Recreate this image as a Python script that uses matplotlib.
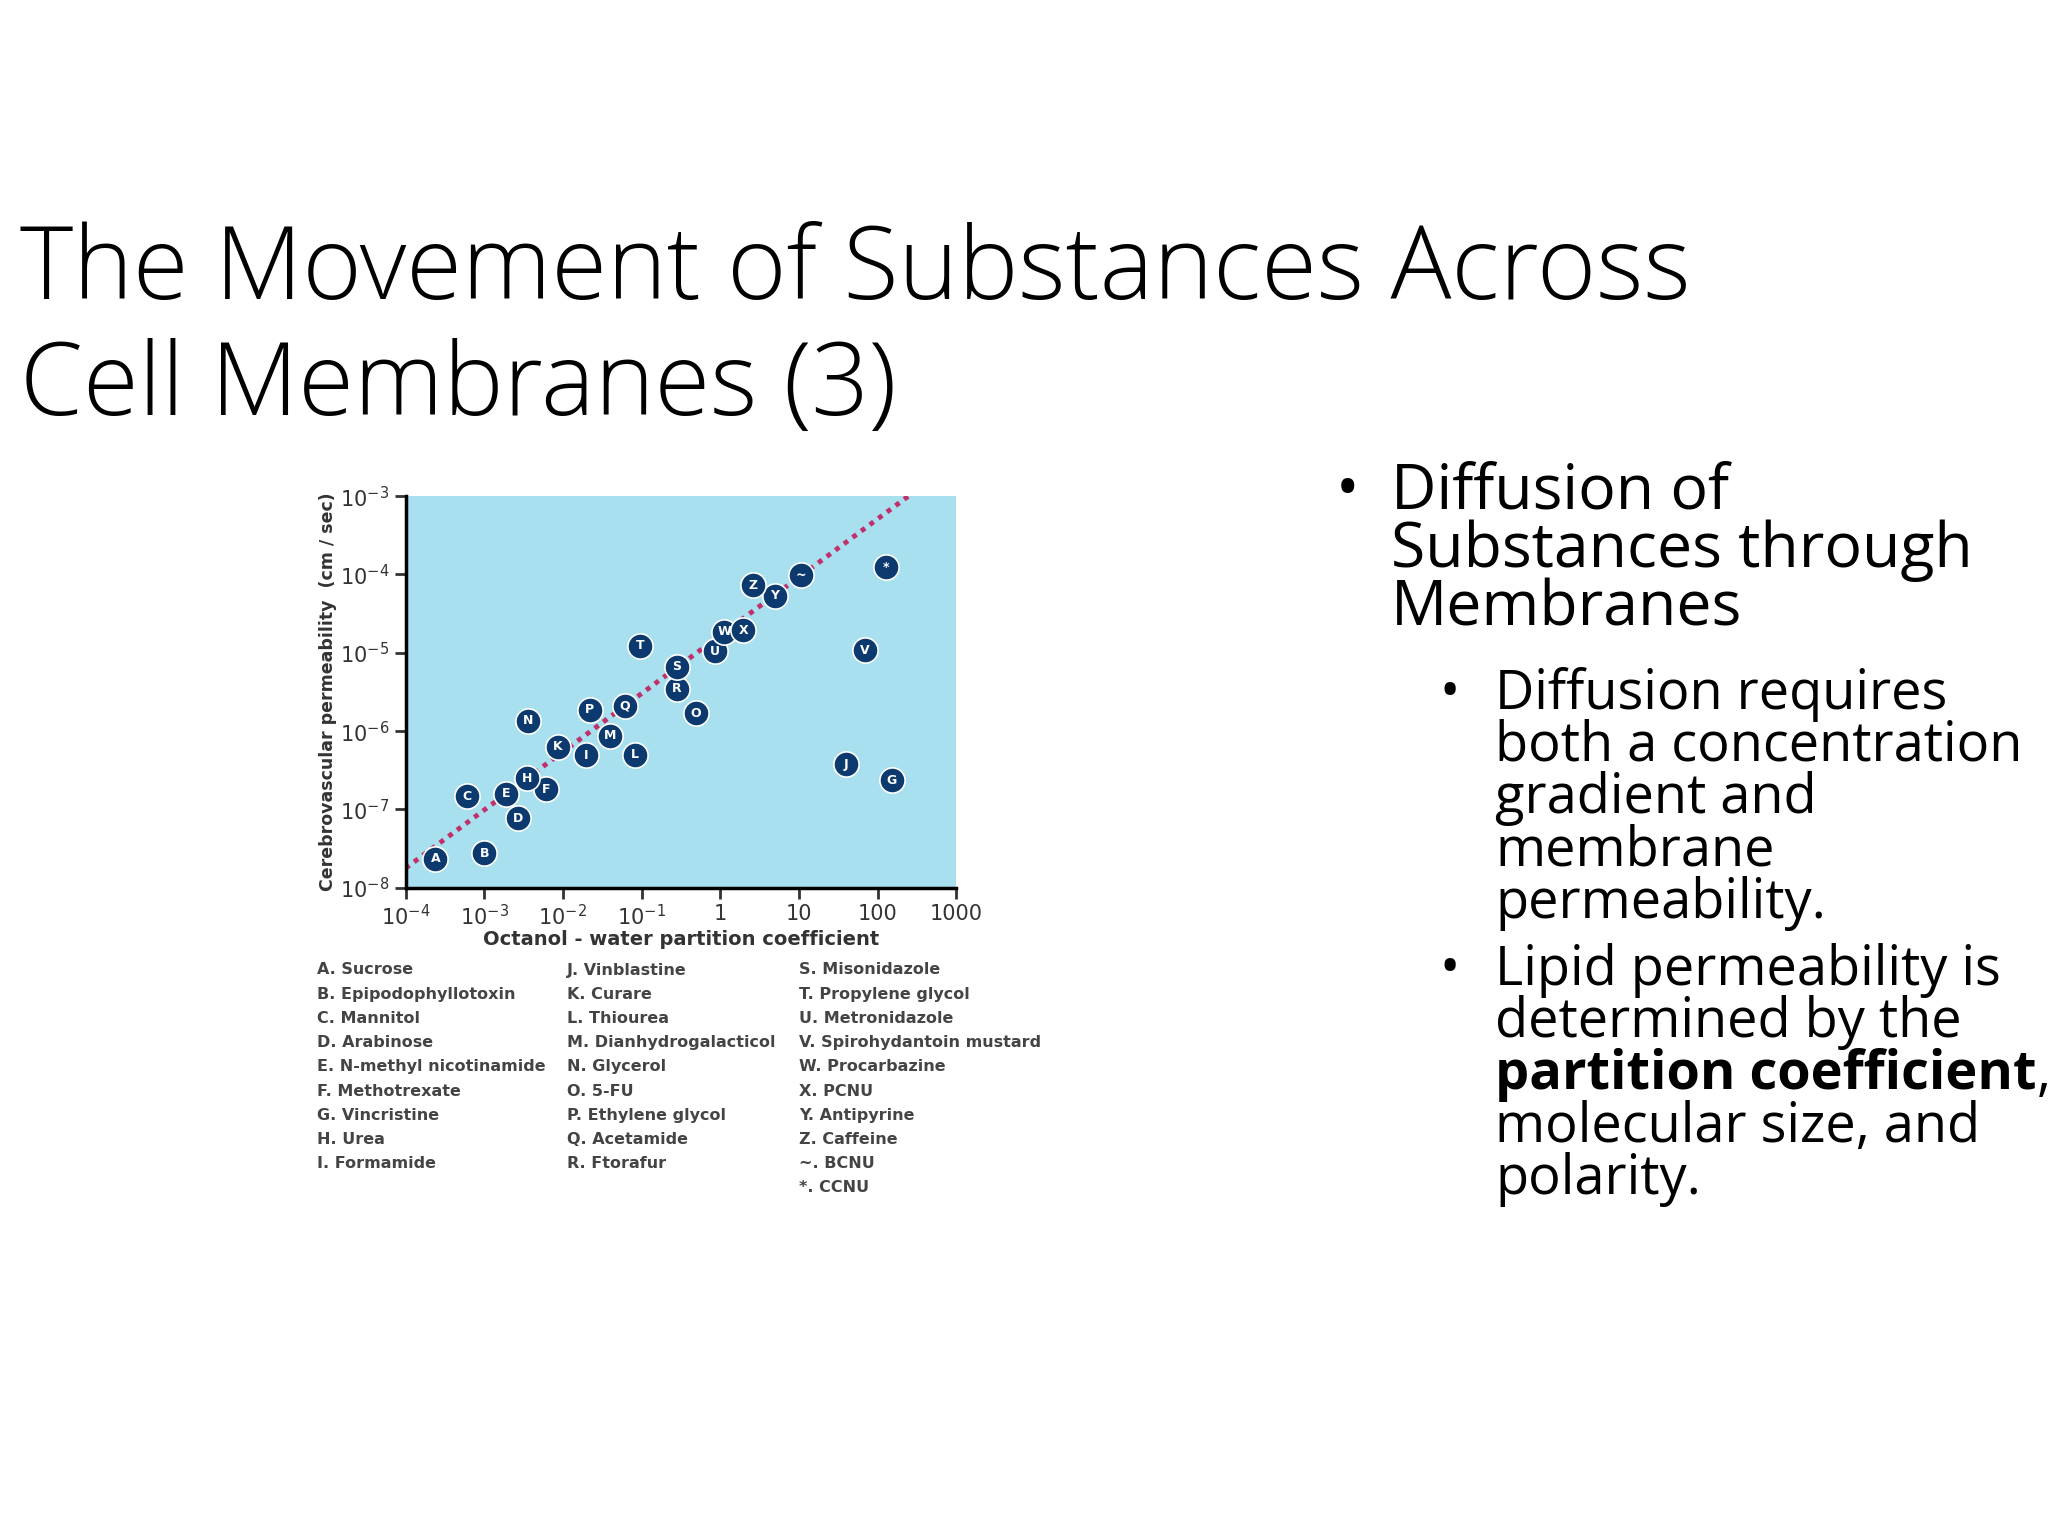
import numpy as np
import matplotlib.pyplot as plt

# data (log10 values)
labels = list("ABCDEFGHIJKLMNOPQRSTUVWXYZ") + ["~", "*"]
log_k = [-3.62, -3.0, -3.22, -2.57, -2.72, -2.21, 2.18, -2.45, -1.71, 1.60, -2.06, -1.08, -1.40, -2.44,
         -0.31, -1.66, -1.21, -0.55, -0.55, -1.02, -0.07, 1.84, 0.05, 0.29, 0.69, 0.41, 1.03, 2.11]
log_p = [-7.63, -7.56, -6.83, -7.11, -6.80, -6.74, -6.63, -6.60, -6.31, -6.42, -6.20, -6.30, -6.06, -5.87,
         -5.77, -5.73, -5.68, -5.46, -5.18, -4.91, -4.98, -4.97, -4.73, -4.71, -4.27, -4.14, -4.01, -3.91]
fit_x = [-4.0, 2.39]
fit_y = [-7.75, -3.0]

legend_cols = [
    ["A. Sucrose", "B. Epipodophyllotoxin", "C. Mannitol", "D. Arabinose", "E. N-methyl nicotinamide",
     "F. Methotrexate", "G. Vincristine", "H. Urea", "I. Formamide"],
    ["J. Vinblastine", "K. Curare", "L. Thiourea", "M. Dianhydrogalacticol", "N. Glycerol",
     "O. 5-FU", "P. Ethylene glycol", "Q. Acetamide", "R. Ftorafur"],
    ["S. Misonidazole", "T. Propylene glycol", "U. Metronidazole", "V. Spirohydantoin mustard",
     "W. Procarbazine", "X. PCNU", "Y. Antipyrine", "Z. Caffeine", "~. BCNU", "*. CCNU"],
]

fig = plt.figure(figsize=(20.48, 15.36), dpi=100)
fig.patch.set_facecolor("white")

fig.text(0.010, 0.785, "The Movement of Substances Across\nCell Membranes (3)", fontsize=73,
         family="Open Sans", fontweight="light", va="center", linespacing=1.2)

ax = fig.add_axes([0.198, 0.422, 0.269, 0.255])
ax.set_facecolor("#a8e0ef")
kx = 10.0 ** np.array(log_k)
py = 10.0 ** np.array(log_p)
ax.plot(10.0 ** np.array(fit_x), 10.0 ** np.array(fit_y), ls=(0, (1, 1.2)), lw=3.5, color="#c0306a")
ax.scatter(kx, py, s=330, color="#0c3a6e", edgecolors="white", linewidths=1.2, zorder=3)
for lab, x, y in zip(labels, kx, py):
    ax.text(x, y, lab, color="white", fontsize=9, fontweight="bold", ha="center", va="center", zorder=4)
ax.set_xscale("log")
ax.set_yscale("log")
ax.set_xlim(1e-4, 1000)
ax.set_ylim(1e-8, 1e-3)
ax.set_xticks([1e-4, 1e-3, 1e-2, 1e-1, 1, 10, 100, 1000])
ax.set_xticklabels([r"$10^{-4}$", r"$10^{-3}$", r"$10^{-2}$", r"$10^{-1}$", "1", "10", "100", "1000"])
ax.set_yticks([1e-8, 1e-7, 1e-6, 1e-5, 1e-4, 1e-3])
ax.set_yticklabels([r"$10^{-8}$", r"$10^{-7}$", r"$10^{-6}$", r"$10^{-5}$", r"$10^{-4}$", r"$10^{-3}$"])
ax.minorticks_off()
ax.tick_params(labelsize=15, width=2, length=8, colors="#333333")
for s in ["top", "right"]:
    ax.spines[s].set_visible(False)
for s in ["left", "bottom"]:
    ax.spines[s].set_linewidth(2.5)
ax.set_xlabel("Octanol - water partition coefficient", fontsize=14, fontweight="bold", color="#333333", labelpad=1)
ax.set_ylabel("Cerebrovascular permeability  (cm / sec)", fontsize=12.5, fontweight="bold", color="#333333",
              labelpad=2)

col_x = [0.155, 0.277, 0.390]
for cx, col in zip(col_x, legend_cols):
    for i, t in enumerate(col):
        fig.text(cx, 1 - (970 + i * 24.2) / 1536, t, fontsize=11.5, fontweight="bold", color="#444444",
                 va="center")

# right-hand bullet text
fig.text(0.652, 0.700, "•", fontsize=45, va="top", family="Open Sans")
fig.text(0.679, 0.700, "Diffusion of\nSubstances through\nMembranes", fontsize=45, va="top",
         linespacing=0.92, family="Open Sans")

step = 0.034
sub_lines = ["Diffusion requires", "both a concentration", "gradient and", "membrane", "permeability."]
y0 = 0.566
fig.text(0.703, y0, "•", fontsize=39, va="top", family="Open Sans")
for i, t in enumerate(sub_lines):
    fig.text(0.730, y0 - i * step, t, fontsize=39, va="top", family="Open Sans")

y1 = 0.386
fig.text(0.703, y1, "•", fontsize=39, va="top", family="Open Sans")
fig.text(0.730, y1, "Lipid permeability is", fontsize=39, va="top", family="Open Sans")
fig.text(0.730, y1 - step, "determined by the", fontsize=39, va="top", family="Open Sans")
bold = fig.text(0.730, y1 - 2 * step, "partition coefficient", fontsize=39, va="top", fontweight="bold",
                family="Open Sans")
fig.canvas.draw()
bb = bold.get_window_extent()
fig.text(bb.x1 / fig.bbox.width, y1 - 2 * step, ",", fontsize=39, va="top", family="Open Sans")
fig.text(0.730, y1 - 3 * step, "molecular size, and", fontsize=39, va="top", family="Open Sans")
fig.text(0.730, y1 - 4 * step, "polarity.", fontsize=39, va="top", family="Open Sans")

fig.savefig("out.png", dpi=100)
